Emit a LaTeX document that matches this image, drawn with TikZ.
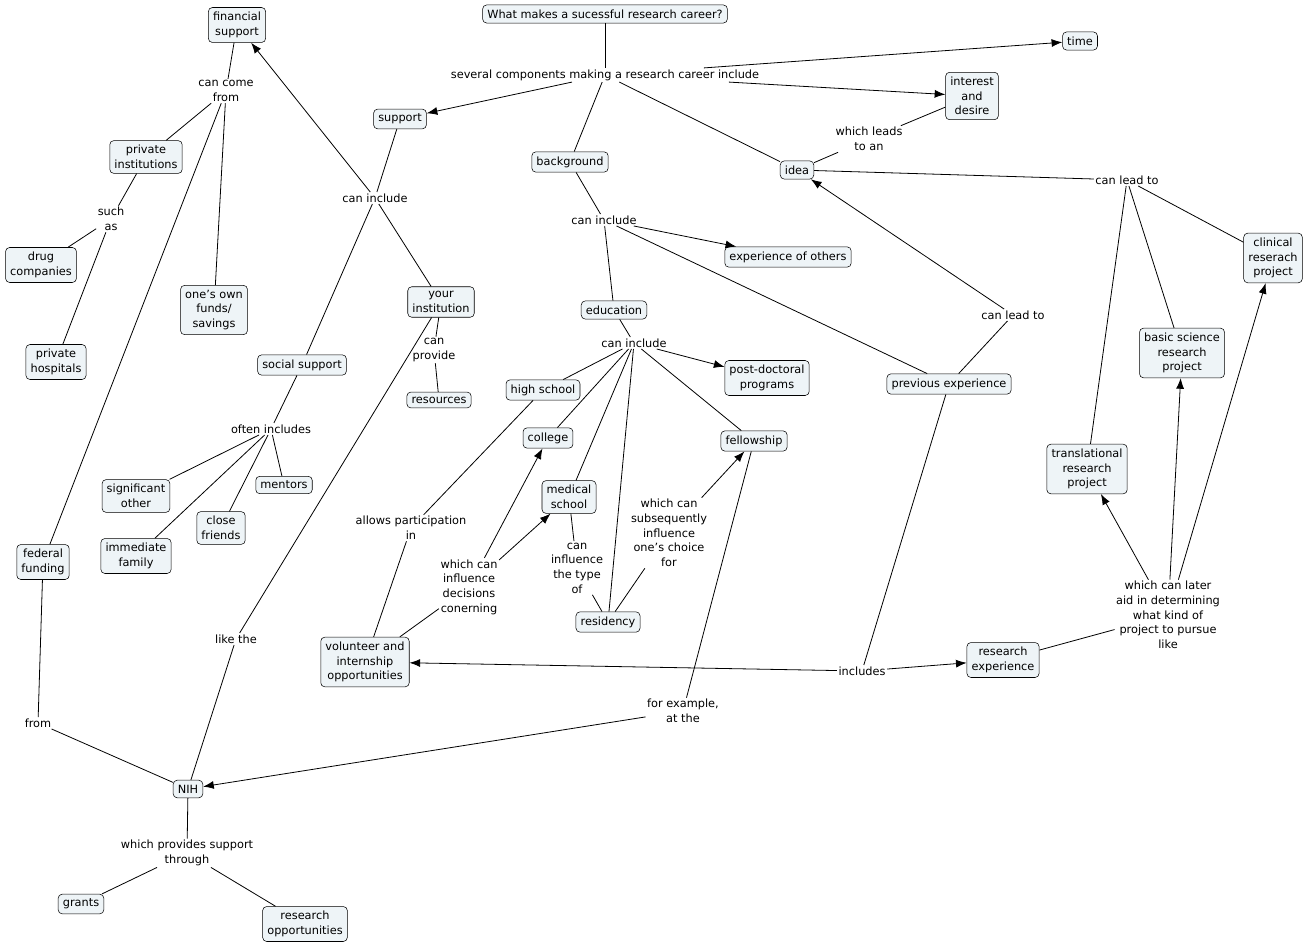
\documentclass[tikz,border=0pt]{standalone}
\usepackage{fontspec}
\setmainfont{DejaVu Sans}
\usetikzlibrary{arrows.meta}
\definecolor{cfill}{HTML}{EEF4F7}
\begin{document}
\begin{tikzpicture}[x=0.75pt,y=-0.75pt,
  c/.style={draw,rounded corners=3pt,fill=cfill,align=center,inner sep=3.5pt,font=\fontsize{8.5}{11}\selectfont},
  l/.style={fill=white,align=center,inner sep=1pt,font=\fontsize{8.5}{11}\selectfont},
  e/.style={draw,line width=0.6pt},
  a/.style={draw,line width=0.6pt,-{Latex[length=8pt,width=6pt]}}]
\useasboundingbox (0,0) rectangle (1312,948);
% concepts
\node[c] (q) at (605,14) {What makes a sucessful research career?};
\node[c] (time) at (1080,41) {time};
\node[c] (interest) at (972,96) {interest\\and\\desire};
\node[c] (support) at (400,119) {support};
\node[c] (background) at (570,162) {background};
\node[c] (idea) at (797,170) {idea};
\node[c] (financial) at (237,25) {financial\\support};
\node[c] (privinst) at (146,157) {private\\institutions};
\node[c] (drug) at (41,265) {drug\\companies};
\node[c] (own) at (214,310) {one's own\\funds/\\savings};
\node[c] (privhosp) at (56,362) {private\\hospitals};
\node[c] (social) at (302,365) {social support};
\node[c] (yourinst) at (441,302) {your\\institution};
\node[c] (resources) at (439,400) {resources};
\node[c] (expothers) at (788,257) {experience of others};
\node[c] (education) at (614,310) {education};
\node[c] (postdoc) at (767,378) {post-doctoral\\programs};
\node[c] (high) at (543,390) {high school};
\node[c] (college) at (548,438) {college};
\node[c] (med) at (569,497) {medical\\school};
\node[c] (fellow) at (754,441) {fellowship};
\node[c] (resid) at (608,622) {residency};
\node[c] (prev) at (949,384) {previous experience};
\node[c] (clin) at (1273,258) {clinical\\reserach\\project};
\node[c] (basic) at (1182,353) {basic science\\research\\project};
\node[c] (trans) at (1087,469) {translational\\research\\project};
\node[c] (rexp) at (1003,660) {research\\experience};
\node[c] (vol) at (365,662) {volunteer and\\internship\\opportunities};
\node[c] (sig) at (136,496) {significant\\other};
\node[c] (imm) at (136,556) {immediate\\family};
\node[c] (ment) at (284,485) {mentors};
\node[c] (close) at (221,528) {close\\friends};
\node[c] (fed) at (43,562) {federal\\funding};
\node[c] (nih) at (188,789) {NIH};
\node[c] (grants) at (81,904) {grants};
\node[c] (ropp) at (305,924) {research\\opportunities};
% linking phrases
\node[l] (l1) at (605,75) {several components making a research career include};
\node[l] (l2) at (226,91) {can come\\from};
\node[l] (l3) at (111,219) {such\\as};
\node[l] (l4) at (375,198) {can include};
\node[l] (l5) at (604,220) {can include};
\node[l] (l6) at (869,139) {which leads\\to an};
\node[l] (l7) at (1127,180) {can lead to};
\node[l] (l8) at (434,350) {can\\provide};
\node[l] (l9) at (634,343) {can include};
\node[l] (l10) at (1013,315) {can lead to};
\node[l] (l11) at (271,429) {often includes};
\node[l] (l12) at (411,528) {allows participation\\in};
\node[l] (l13) at (469,587) {which can\\influence\\decisions\\conerning};
\node[l] (l14) at (577,568) {can\\influence\\the type\\of};
\node[l] (l15) at (669,533) {which can\\subsequently\\influence\\one's choice\\for};
\node[l] (l16) at (1168,615) {which can later\\aid in determining\\what kind of\\project to pursue\\like};
\node[l] (l17) at (862,671) {includes};
\node[l] (l18) at (683,711) {for example,\\at the};
\node[l] (l19) at (236,639) {like the};
\node[l] (l20) at (38,723) {from};
\node[l] (l21) at (187,853) {which provides support\\through};
% connectors
\draw[e] (q) -- (l1);
\draw[a] (l1) -- (support);
\draw[a] (l1) -- (time);
\draw[a] (l1) -- (interest);
\draw[e] (l1) -- (background);
\draw[e] (l1) -- (idea);
\draw[e] (idea) -- (l6);
\draw[e] (l6) -- (interest);
\draw[e] (idea) -- (l7);
\draw[e] (l7) -- (clin);
\draw[e] (l7) -- (basic);
\draw[e] (l7) -- (trans);
\draw[e] (support) -- (l4);
\draw[e] (l4) -- (social);
\draw[e] (l4) -- (yourinst);
\draw[a] (l4) -- (financial);
\draw[e] (financial) -- (l2);
\draw[e] (l2) -- (privinst);
\draw[e] (l2) -- (own);
\draw[e] (l2) -- (fed);
\draw[e] (privinst) -- (l3);
\draw[e] (l3) -- (drug);
\draw[e] (l3) -- (privhosp);
\draw[e] (background) -- (l5);
\draw[a] (l5) -- (expothers);
\draw[e] (l5) -- (education);
\draw[e] (l5) -- (prev);
\draw[e] (education) -- (l9);
\draw[a] (l9) -- (postdoc);
\draw[e] (l9) -- (high);
\draw[e] (l9) -- (college);
\draw[e] (l9) -- (med);
\draw[e] (l9) -- (fellow);
\draw[e] (l9) -- (resid);
\draw[e] (prev) -- (l10);
\draw[a] (l10) -- (idea);
\draw[e] (prev) -- (l17);
\draw[a] (l17) -- (vol);
\draw[a] (l17) -- (rexp);
\draw[e] (yourinst) -- (l8);
\draw[e] (l8) -- (resources);
\draw[e] (yourinst) -- (l19);
\draw[e] (l19) -- (nih);
\draw[e] (social) -- (l11);
\draw[e] (l11) -- (sig);
\draw[e] (l11) -- (imm);
\draw[e] (l11) -- (ment);
\draw[e] (l11) -- (close);
\draw[e] (high) -- (l12);
\draw[e] (l12) -- (vol);
\draw[e] (vol) -- (l13);
\draw[a] (l13) -- (college);
\draw[a] (l13) -- (med);
\draw[e] (med) -- (l14);
\draw[e] (l14) -- (resid);
\draw[e] (resid) -- (l15);
\draw[a] (l15) -- (fellow);
\draw[e] (fellow) -- (l18);
\draw[a] (l18) -- (nih);
\draw[e] (fed) -- (l20);
\draw[e] (l20) -- (nih);
\draw[e] (nih) -- (l21);
\draw[e] (l21) -- (grants);
\draw[e] (l21) -- (ropp);
\draw[e] (rexp) -- (l16);
\draw[a] (l16) -- (trans);
\draw[a] (l16) -- (basic);
\draw[a] (l16) -- (clin);
\end{tikzpicture}
\end{document}
